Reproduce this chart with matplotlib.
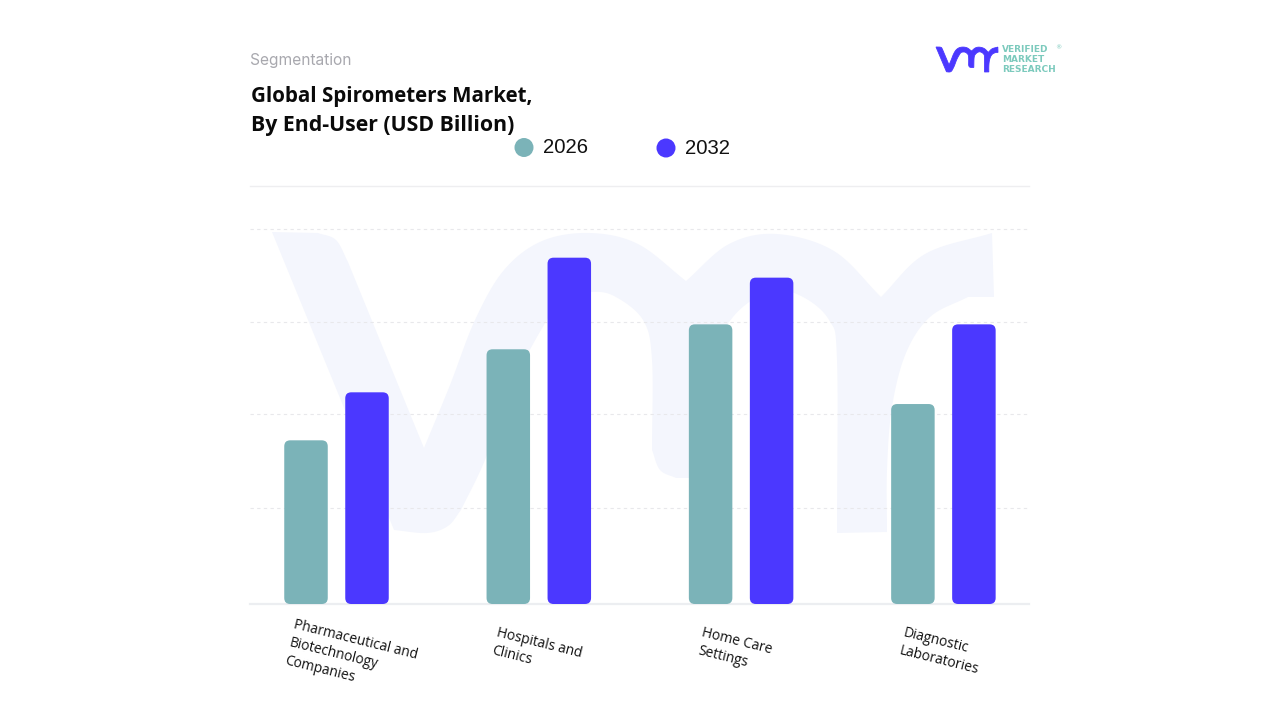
import numpy as np
import matplotlib
matplotlib.use("Agg")
import matplotlib.pyplot as plt
from matplotlib.patches import FancyBboxPatch, PathPatch, Circle
from matplotlib.path import Path

categories = ["Pharmaceutical and\nBiotechnology\nCompanies", "Hospitals and\nClinics",
              "Home Care\nSettings", "Diagnostic\nLaboratories"]
series_names = ["2026", "2032"]
values_2026 = [1.746, 2.717, 2.983, 2.133]
values_2032 = [2.258, 3.694, 3.481, 2.983]
grid_values = [1.02, 2.03, 3.01, 4.0]

TEAL = "#7bb3b8"
BLUE = "#4b38ff"
WM = "#f4f6fd"
W, H = 1280, 720


def smooth(pts, n=12):
    """Catmull-Rom through logo outline points."""
    pts = np.array(pts, float)
    if len(pts) < 3:
        return pts
    p = np.vstack([2 * pts[0] - pts[1], pts, 2 * pts[-1] - pts[-2]])
    out = []
    for i in range(1, len(p) - 2):
        for t in np.linspace(0, 1, n, endpoint=False):
            out.append(0.5 * ((2 * p[i]) + (-p[i - 1] + p[i + 1]) * t +
                              (2 * p[i - 1] - 5 * p[i] + 4 * p[i + 1] - p[i + 2]) * t ** 2 +
                              (-p[i - 1] + 3 * p[i] - 3 * p[i + 1] + p[i + 2]) * t ** 3))
    out.append(p[-2])
    return np.array(out)


logo_segments = [
    [(272, 232), (318, 233)],
    [(318, 233), (336, 240), (348, 262)],
    [(348, 262), (388, 360), (424, 448)],
    [(424, 448), (450, 385), (475, 320), (504, 270), (542, 241), (590, 233), (638, 244), (686, 281)],
    [(686, 281), (729, 244), (777, 234), (834, 251), (881, 297)],
    [(881, 297), (925, 254), (992, 233)],
    [(992, 233), (994, 297)],
    [(994, 297), (968, 297)],
    [(968, 297), (930, 317), (906, 353), (892, 407), (887, 470), (887, 532)],
    [(887, 532), (837, 533)],
    [(837, 533), (837, 360), (829, 320), (801, 296), (770, 291), (733, 317), (716, 360), (712, 478)],
    [(712, 478), (676, 478)],
    [(676, 478), (660, 470), (652, 450)],
    [(652, 450), (652, 360), (643, 320), (614, 296), (590, 292), (565, 298), (547, 320), (515, 380), (485, 460), (461, 510)],
    [(461, 510), (448, 526), (427, 533), (394, 530)],
    [(394, 530), (272, 232)],
]
logo_outline = np.vstack([smooth(s) for s in logo_segments])

fig = plt.figure(figsize=(12.8, 7.2), dpi=100, facecolor="white")

# decoration layer in pixel coordinates
bg = fig.add_axes([0, 0, 1, 1], zorder=0)
bg.set_xlim(0, W)
bg.set_ylim(H, 0)
bg.axis("off")
bg.add_patch(PathPatch(Path(np.vstack([logo_outline, logo_outline[0]]), closed=True), fc=WM, ec="none"))
small = logo_outline.copy()
small[:, 0] = 936 + (small[:, 0] - 272) * 62 / 722
small[:, 1] = 47 + (small[:, 1] - 232) * 25 / 301
bg.add_patch(PathPatch(Path(np.vstack([small, small[0]]), closed=True), fc=BLUE, ec=BLUE, lw=0.6))

# chart
left, right, top, bottom = 250, 1029, 185.5, 604
ax = fig.add_axes([left / W, 1 - bottom / H, (right - left) / W, (bottom - top) / H], zorder=1)
ax.patch.set_alpha(0)
group_px = 202.3
unit_px = 93.75
ax.set_xlim((left - 336.5) / group_px, (right - 336.5) / group_px)
ax.set_ylim(0, (bottom - top) / unit_px)
ax.set_yticks(grid_values)
ax.set_xticks(range(len(categories)))
ax.tick_params(length=0, labelleft=False, labelbottom=False)
ax.grid(axis="y", color="#e8e8eb", lw=0.8, ls=(0, (3, 3)), zorder=1)
ax.set_axisbelow(True)
for s in ("left", "right"):
    ax.spines[s].set_visible(False)
ax.spines["top"].set_color("#eeeef0")
ax.spines["top"].set_linewidth(1)
ax.spines["bottom"].set_color("#eceef1")
ax.spines["bottom"].set_linewidth(1.6)

offset = 30.5 / group_px
bar_w = 43.5 / group_px
round_x = 6 / group_px
aspect = (1 / unit_px) / (1 / group_px)
for i, (a, b) in enumerate(zip(values_2026, values_2032)):
    for xc, v, c in ((i - offset, a, TEAL), (i + offset, b, BLUE)):
        ax.add_patch(FancyBboxPatch((xc - bar_w / 2, 0), bar_w, v,
                                    boxstyle=f"round,pad=0,rounding_size={round_x}",
                                    mutation_aspect=aspect, fc=c, ec="none", zorder=3,
                                    clip_on=False))

label_offsets = [(-41, -13), (-40, -21), (-37, -21), (-38, -21)]
for i, (lab, off) in enumerate(zip(categories, label_offsets)):
    ax.annotate(lab, xy=(i, 0), xycoords="data", xytext=(off[0], off[1]),
                textcoords="offset pixels", ha="left", va="top", rotation=-14,
                rotation_mode="anchor", multialignment="left", family="Open Sans",
                fontsize=9.9, color="#111111", linespacing=1.36, annotation_clip=False)

# header text
fig.text(250 / W, 1 - 60 / H, "Segmentation", family="Inter", fontsize=11.2, color="#a8a8ae", va="center")
fig.text(251 / W, 1 - 96.5 / H, "Global Spirometers Market,", family="Open Sans", weight="bold",
         fontsize=14.8, color="#0a0a0a", va="center")
fig.text(251 / W, 1 - 125 / H, "By End-User (USD Billion)", family="Open Sans", weight="bold",
         fontsize=15.3, color="#0a0a0a", va="center")

# legend
for cx, cy, col, name in ((524, 147.5, TEAL, series_names[0]), (666, 148, BLUE, series_names[1])):
    bg.add_patch(Circle((cx, cy), 9.5, fc=col, ec="none"))
    fig.text((cx + 18.5) / W, 1 - cy / H, name, family="Liberation Sans", fontsize=14.6,
             color="#111111", va="center")

# logo words
for y, word in ((50, "VERIFIED"), (60, "MARKET"), (69.5, "RESEARCH")):
    fig.text(1002 / W, 1 - y / H, word, family="DejaVu Sans", weight="bold", fontsize=6.5,
             color="#7ccabd", va="center")
fig.text(1055 / W, 1 - 48 / H, "®", family="DejaVu Sans", fontsize=4.5, color="#7ccabd", va="center")

fig.savefig("out.png", dpi=100)
